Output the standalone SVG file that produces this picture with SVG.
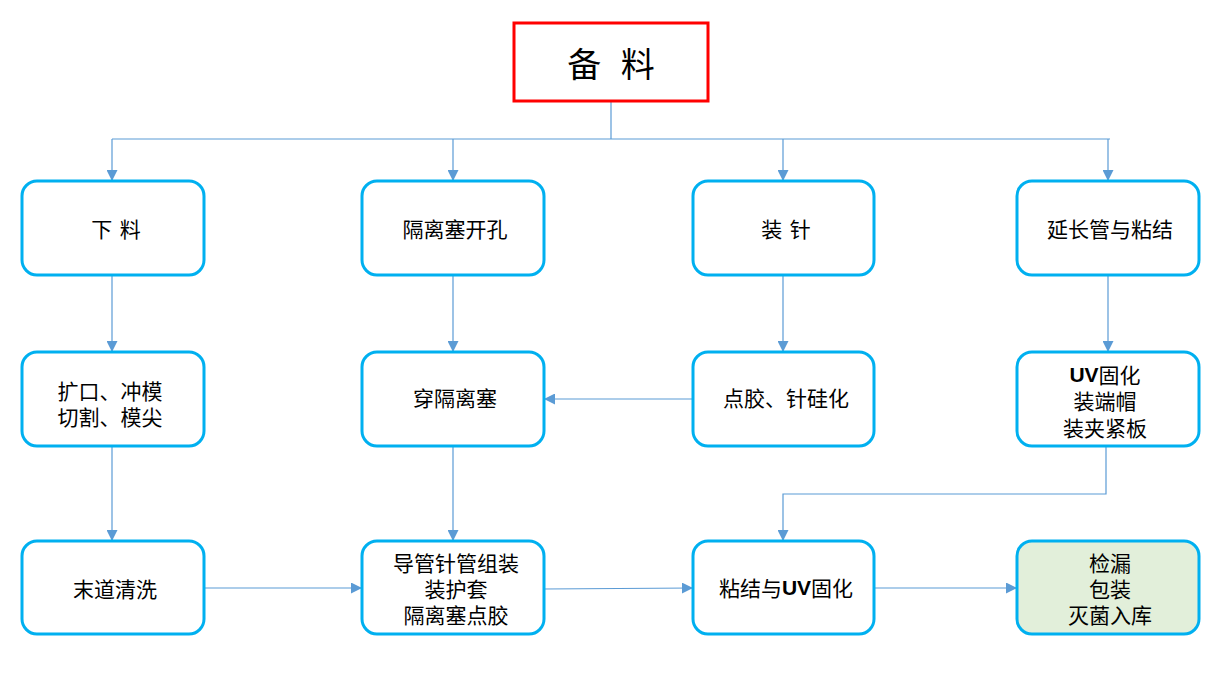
<svg xmlns="http://www.w3.org/2000/svg" width="1224" height="690" viewBox="0 0 1224 690">
<defs>
<style>
.box{fill:#ffffff;stroke:#00B0F0;stroke-width:3}
.t{font-family:"Noto Sans CJK SC","Liberation Serif",serif;font-size:21px;fill:#000;text-anchor:middle;dominant-baseline:central}
.b{font-family:"Liberation Sans","Noto Sans CJK SC",sans-serif;font-weight:bold}
.c{fill:none;stroke:#5B9BD5;stroke-width:1.2}
</style>
<marker id="ah" viewBox="0 0 10 10" refX="10" refY="5" markerWidth="11" markerHeight="11" markerUnits="userSpaceOnUse" orient="auto">
<path d="M0,0 L10,5 L0,10 Z" fill="#5B9BD5"/>
</marker>
</defs>
<rect width="1224" height="690" fill="#ffffff"/>
<g id="connectors">
<path class="c" d="M611,101 V139"/>
<path class="c" d="M112,139 H1110"/>
<path class="c" d="M112,139 V181" marker-end="url(#ah)"/>
<path class="c" d="M453,139 V181" marker-end="url(#ah)"/>
<path class="c" d="M783,139 V181" marker-end="url(#ah)"/>
<path class="c" d="M1108,139 V181" marker-end="url(#ah)"/>
<path class="c" d="M112,275 V352" marker-end="url(#ah)"/>
<path class="c" d="M453,275 V352" marker-end="url(#ah)"/>
<path class="c" d="M783,275 V352" marker-end="url(#ah)"/>
<path class="c" d="M1108,275 V352" marker-end="url(#ah)"/>
<path class="c" d="M693,399 H544" marker-end="url(#ah)"/>
<path class="c" d="M112,446 V541" marker-end="url(#ah)"/>
<path class="c" d="M453,446 V541" marker-end="url(#ah)"/>
<path class="c" d="M1106,446 V494 H783 V541" marker-end="url(#ah)"/>
<path class="c" d="M204,588 H362" marker-end="url(#ah)"/>
<path class="c" d="M544,589 L693,588" marker-end="url(#ah)"/>
<path class="c" d="M874,588 H1017" marker-end="url(#ah)"/>
</g>
<g id="n-beiliao">
<rect x="514" y="23" width="194" height="78" fill="#fff" stroke="#FF0000" stroke-width="3"/>
<text class="t" x="611" y="62" style="font-size:34px" word-spacing="12">备 料</text>
</g>
<g id="n-xialiao">
<rect class="box" x="22" y="181" width="182" height="94" rx="15"/>
<text class="t" x="116" y="228" word-spacing="3">下 料</text>
</g>
<g id="n-kaikong">
<rect class="box" x="362" y="181" width="182" height="94" rx="15"/>
<text class="t" x="455" y="228">隔离塞开孔</text>
</g>
<g id="n-zhuangzhen">
<rect class="box" x="693" y="181" width="181" height="94" rx="15"/>
<text class="t" x="786" y="228" word-spacing="3">装 针</text>
</g>
<g id="n-yanchang">
<rect class="box" x="1017" y="181" width="182" height="94" rx="15"/>
<text class="t" x="1110" y="228">延长管与粘结</text>
</g>
<g id="n-kuokou">
<rect class="box" x="22" y="352" width="182" height="94" rx="15"/>
<text class="t"><tspan x="110" y="390">扩口、冲模</tspan><tspan x="110" y="416">切割、模尖</tspan></text>
</g>
<g id="n-chuan">
<rect class="box" x="362" y="352" width="182" height="94" rx="15"/>
<text class="t" x="455" y="397">穿隔离塞</text>
</g>
<g id="n-dianjiao">
<rect class="box" x="693" y="352" width="181" height="94" rx="15"/>
<text class="t" x="786" y="397">点胶、针硅化</text>
</g>
<g id="n-uv">
<rect class="box" x="1017" y="352" width="182" height="94" rx="15"/>
<text class="t"><tspan x="1105" y="374"><tspan class="b">UV</tspan>固化</tspan><tspan x="1105" y="400">装端帽</tspan><tspan x="1105" y="427">装夹紧板</tspan></text>
</g>
<g id="n-qingxi">
<rect class="box" x="22" y="541" width="182" height="93" rx="15"/>
<text class="t" x="115" y="588">末道清洗</text>
</g>
<g id="n-zuzhuang">
<rect class="box" x="362" y="541" width="182" height="93" rx="15"/>
<text class="t"><tspan x="456" y="562">导管针管组装</tspan><tspan x="456" y="588">装护套</tspan><tspan x="456" y="614">隔离塞点胶</tspan></text>
</g>
<g id="n-nianjie">
<rect class="box" x="693" y="541" width="181" height="93" rx="15"/>
<text class="t" x="786" y="587">粘结与<tspan class="b">UV</tspan>固化</text>
</g>
<g id="n-jianlou">
<rect x="1017" y="541" width="182" height="93" rx="15" fill="#E2EFDA" stroke="#00B0F0" stroke-width="3"/>
<text class="t"><tspan x="1110" y="562">检漏</tspan><tspan x="1110" y="588">包装</tspan><tspan x="1110" y="614">灭菌入库</tspan></text>
</g>
</svg>
